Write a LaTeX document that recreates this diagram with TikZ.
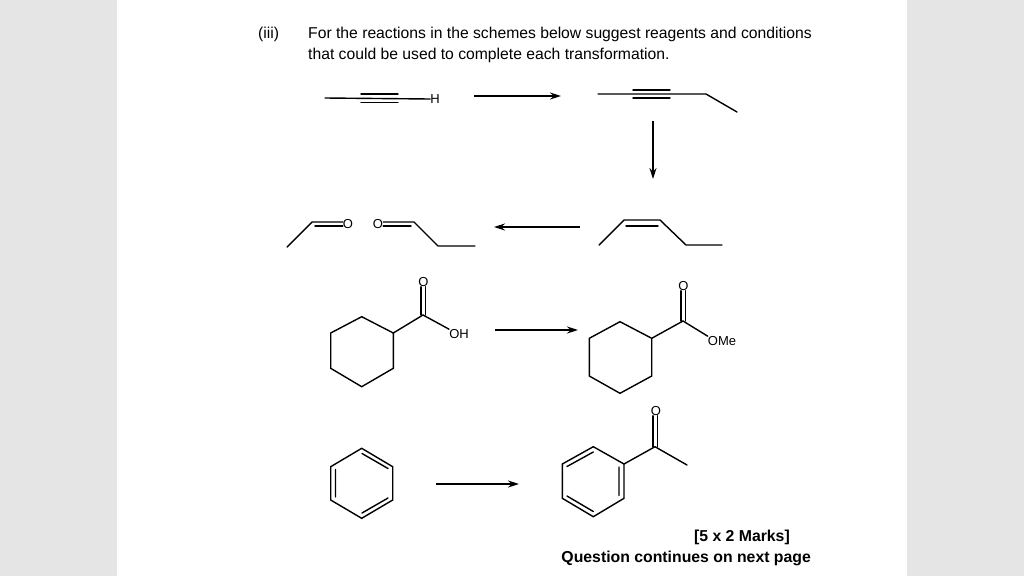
\documentclass[tikz,border=0pt]{standalone}
\usepackage{fontspec}
\setmainfont{Liberation Sans}
\usetikzlibrary{arrows.meta}
\begin{document}
\begin{tikzpicture}[x=1pt,y=-1pt,
  bond/.style={line width=1.4pt,line cap=round},
  rxn/.style={line width=1.6pt,-{Stealth[length=11pt,width=7pt]}},
  atom/.style={inner sep=0pt,font=\fontsize{13}{15}\selectfont},
  txt/.style={inner sep=0pt,anchor=base west,font=\fontsize{15.7}{18}\selectfont}]
\useasboundingbox (0,0) rectangle (1024,576);
\fill[black!10] (0,0) rectangle (1024,576);
\fill[white] (117,0) rectangle (907,576);
% text
\node[txt] (n1) at (258,38) {(iii)};
\node[txt] (t1) at (308,38) {For the reactions in the schemes below suggest reagents and conditions};
\node[txt] (t2) at (308,59) {that could be used to complete each transformation.};
\node[txt,anchor=base east,font=\bfseries\fontsize{15.8}{18}\selectfont] (m) at (790,541) {[5 x 2 Marks]};
\node[txt,anchor=base east,font=\bfseries\fontsize{15.8}{18}\selectfont] (q) at (811,562) {Question continues on next page};
% propyne
\node[atom] (H) at (435,99) {H};
\draw[bond] (325,98) -- (H.west);
\draw[bond] (361,94) -- (398,94) (361,102.5) -- (398,102.5);
\coordinate (a1s) at (474,96); \coordinate (a1e) at (561,96);
\draw[rxn] (a1s) -- (a1e);
% 2-butyne
\draw[bond] (598,94) -- (706,94) -- (737,112);
\draw[bond] (633,90) -- (670,90) (633,98) -- (670,98);
\coordinate (a2s) at (653,121); \coordinate (a2e) at (653,179);
\draw[rxn,line width=1.2pt] (a2s) -- (a2e);
% cis-2-butene
\draw[bond] (599,245) -- (624,220) -- (660,220) -- (686,245) -- (722,245);
\draw[bond] (626,226) -- (658,226);
\coordinate (a3s) at (580,227); \coordinate (a3e) at (494,227);
\draw[rxn,line width=1.2pt] (a3s) -- (a3e);
% acetaldehyde
\node[atom] (O1) at (348,224) {O};
\draw[bond] (287,247) -- (312,222) -- (O1.west |- 0,222);
\draw[bond] (315,226) -- (O1.west |- 0,226);
% propanal
\node[atom] (O2) at (378,224) {O};
\draw[bond] (O2.east |- 0,222) -- (414,222) -- (438,246) -- (475,246);
\draw[bond] (O2.east |- 0,226) -- (411,226);
% cyclohexanecarboxylic acid
\draw[bond] (361.7,316.7) -- (393.3,333) -- (393.3,368.3) -- (361.7,386.7) -- (330.7,368.3) -- (330.7,333) -- cycle;
\node[atom] (O3) at (423.5,282) {O};
\node[atom] (OH) at (459,334) {OH};
\draw[bond] (393.3,333) -- (423,315) -- (OH.north west);
\draw[bond] (421,315) -- (421,0 |- O3.south) (425.5,315) -- (425.5,0 |- O3.south);
\coordinate (a4s) at (495,330); \coordinate (a4e) at (578,330);
\draw[rxn] (a4s) -- (a4e);
% methyl ester
\draw[bond] (620,321.7) -- (651.7,338.3) -- (651.7,376) -- (620,393.3) -- (589.3,376) -- (589.3,338.3) -- cycle;
\node[atom] (O4) at (683.5,286) {O};
\node[atom] (OMe) at (722,341) {OMe};
\draw[bond] (651.7,338.3) -- (683,321) -- (OMe.north west);
\draw[bond] (681,321) -- (681,0 |- O4.south) (685.5,321) -- (685.5,0 |- O4.south);
% benzene
\draw[bond] (361.7,448.3) -- (392.7,466.7) -- (392.7,500) -- (361.7,518.3) -- (330.7,500) -- (330.7,466.7) -- cycle;
\draw[bond] (362,453.5) -- (388,468.5) (388,498) -- (362,513) (335.5,469.5) -- (335.5,497);
\coordinate (a5s) at (436,484); \coordinate (a5e) at (519,484);
\draw[rxn] (a5s) -- (a5e);
% acetophenone
\draw[bond] (593.3,446.7) -- (624,464) -- (624,498.3) -- (593.3,516.7) -- (562.3,498.3) -- (562.3,464) -- cycle;
\draw[bond] (567,466.5) -- (593.3,452) (619,467) -- (619,495.5) (593.3,511.5) -- (567,496);
\node[atom] (O5) at (656,411) {O};
\draw[bond] (624,464) -- (655,446.7) -- (687,465);
\draw[bond] (653,446.7) -- (653,0 |- O5.south) (657.5,446.7) -- (657.5,0 |- O5.south);
\end{tikzpicture}
\end{document}
